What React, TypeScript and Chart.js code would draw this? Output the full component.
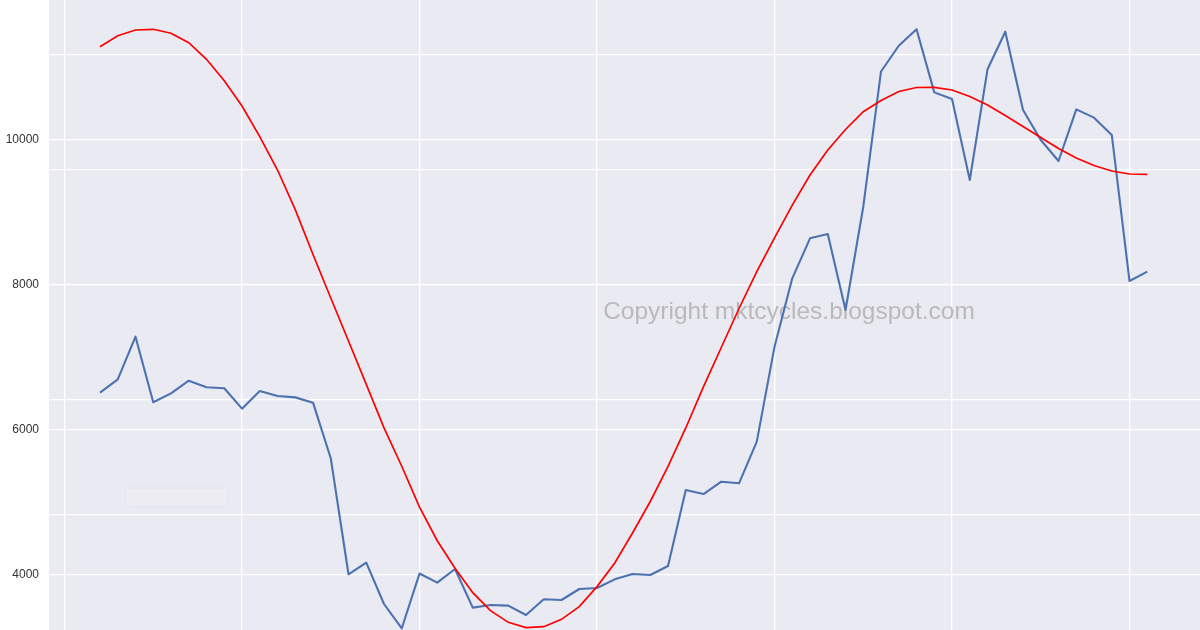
import React, { useEffect, useRef } from "react";
import { Chart, registerables } from "chart.js";

Chart.register(...registerables);

// index of each sample (x positions along the time axis)
const blueValues = [
  6515, 6699, 7287, 6382, 6506, 6680, 6589, 6575, 6294, 6538,
  6469, 6450, 6377, 5610, 4010, 4170, 3600, 3265, 4020, 3895,
  4083, 3550, 3586, 3577, 3448, 3665, 3655, 3807, 3821, 3940,
  4014, 4000, 4124, 5172, 5117, 5287, 5265, 5839, 7147, 8092,
  8644, 8703, 7655, 9080, 10945, 11300, 11527, 10657, 10566, 9448,
  10975, 11494, 10414, 10000, 9710, 10423, 10308, 10069, 8055, 8184,
];

const redValues = [
  11287, 11439, 11517, 11527, 11472, 11343, 11113, 10818, 10469, 10046,
  9586, 9040, 8420, 7821, 7228, 6630, 6030, 5500, 4936, 4473,
  4093, 3756, 3508, 3347, 3274, 3287, 3388, 3563, 3840, 4166,
  4580, 5014, 5497, 6028, 6599, 7138, 7676, 8185, 8651, 9102,
  9517, 9862, 10145, 10390, 10545, 10669, 10724, 10727, 10690, 10600,
  10483, 10338, 10186, 10034, 9883, 9752, 9648, 9572, 9531, 9527,
];

const yTicks = [4000, 6000, 8000, 10000];
const y2Ticks = [4827.6, 6413.8, 8000, 9586.2, 11172.4];
const xGridTicks = [-2, 8, 18, 28, 38, 48, 58];
const watermark = "Copyright mktcycles.blogspot.com";

const X_MIN = -2.873;
const X_MAX = 61.97;
const Y_MIN = 3241.4;
const Y_MAX = 11931;

export default function App() {
  const ref = useRef<HTMLCanvasElement | null>(null);

  useEffect(() => {
    if (!ref.current) return;
    const bluePts = blueValues.map((v, i) => ({ x: i, y: v }));
    const redPts = redValues.map((v, i) => ({ x: i, y: v }));

    const bgPlugin = {
      id: "bg",
      beforeDraw(chart: any) {
        const { ctx, chartArea } = chart;
        ctx.save();
        ctx.fillStyle = "#ffffff";
        ctx.fillRect(0, 0, chart.width, chart.height);
        ctx.fillStyle = "#EAEAF2";
        ctx.fillRect(chartArea.left, chartArea.top, chartArea.right - chartArea.left, chartArea.bottom - chartArea.top);
        ctx.restore();
      },
      beforeDatasetsDraw(chart: any) {
        const { ctx, chartArea } = chart;
        ctx.save();
        // faint empty legend box
        ctx.shadowColor = "rgba(0,0,0,0.04)";
        ctx.shadowBlur = 4;
        ctx.fillStyle = "#ECECF2";
        ctx.fillRect(chartArea.left + 77, 489, 101, 17);
        ctx.shadowBlur = 0;
        // watermark
        ctx.font = "24.5px 'Liberation Sans', Arial, sans-serif";
        ctx.fillStyle = "#b9b9bd";
        ctx.textAlign = "center";
        ctx.textBaseline = "middle";
        ctx.fillText(watermark, 789, 312);
        ctx.restore();
      },
    };

    const noPad = (axis: any) => {
      axis.paddingTop = 0;
      axis.paddingBottom = 0;
      axis.paddingLeft = 0;
      axis.paddingRight = 0;
    };

    const chart = new Chart(ref.current, {
      type: "line",
      data: {
        datasets: [
          {
            label: "cycle",
            data: redPts,
            borderColor: "#ff0000",
            borderWidth: 1.7,
            pointRadius: 0,
            tension: 0,
            fill: false,
            order: 0,
            yAxisID: "y",
          },
          {
            label: "price",
            data: bluePts,
            borderColor: "#4C72B0",
            borderWidth: 2.1,
            pointRadius: 0,
            tension: 0,
            fill: false,
            order: 1,
            borderJoinStyle: "round",
            yAxisID: "y",
          },
        ],
      },
      options: {
        animation: false,
        responsive: false,
        layout: { padding: 0, autoPadding: false },
        plugins: { legend: { display: false }, tooltip: { enabled: false } },
        scales: {
          x: {
            type: "linear",
            min: X_MIN,
            max: X_MAX,
            afterBuildTicks: (axis: any) => {
              axis.ticks = xGridTicks.map((v) => ({ value: v }));
            },
            afterFit: (axis: any) => {
              axis.height = 0;
              noPad(axis);
            },
            ticks: { display: false },
            grid: { color: "#ffffff", lineWidth: 1.3, drawTicks: false },
            border: { display: false },
          },
          y: {
            type: "linear",
            position: "left",
            min: Y_MIN,
            max: Y_MAX,
            afterBuildTicks: (axis: any) => {
              axis.ticks = yTicks.map((v) => ({ value: v }));
            },
            afterFit: (axis: any) => {
              axis.width = 49;
              noPad(axis);
            },
            ticks: {
              padding: 10,
              color: "#333333",
              font: { family: "'Liberation Sans', Arial, sans-serif", size: 12 },
              callback: (v: any) => String(v),
            },
            grid: { color: "#ffffff", lineWidth: 1.3, drawTicks: false },
            border: { display: false },
          },
          y2: {
            type: "linear",
            position: "right",
            min: Y_MIN,
            max: Y_MAX,
            afterBuildTicks: (axis: any) => {
              axis.ticks = y2Ticks.map((v) => ({ value: v }));
            },
            afterFit: (axis: any) => {
              axis.width = 0;
              noPad(axis);
            },
            ticks: { display: false },
            grid: { color: "#ffffff", lineWidth: 1.3, drawTicks: false },
            border: { display: false },
          },
        },
      },
      plugins: [bgPlugin],
    });
    return () => chart.destroy();
  }, []);

  return (
    <div style={{ position: "fixed", left: 0, top: 0, width: 1200, height: 630, background: "#fff" }}>
      <canvas ref={ref} width={1200} height={630} style={{ display: "block" }} />
    </div>
  );
}
